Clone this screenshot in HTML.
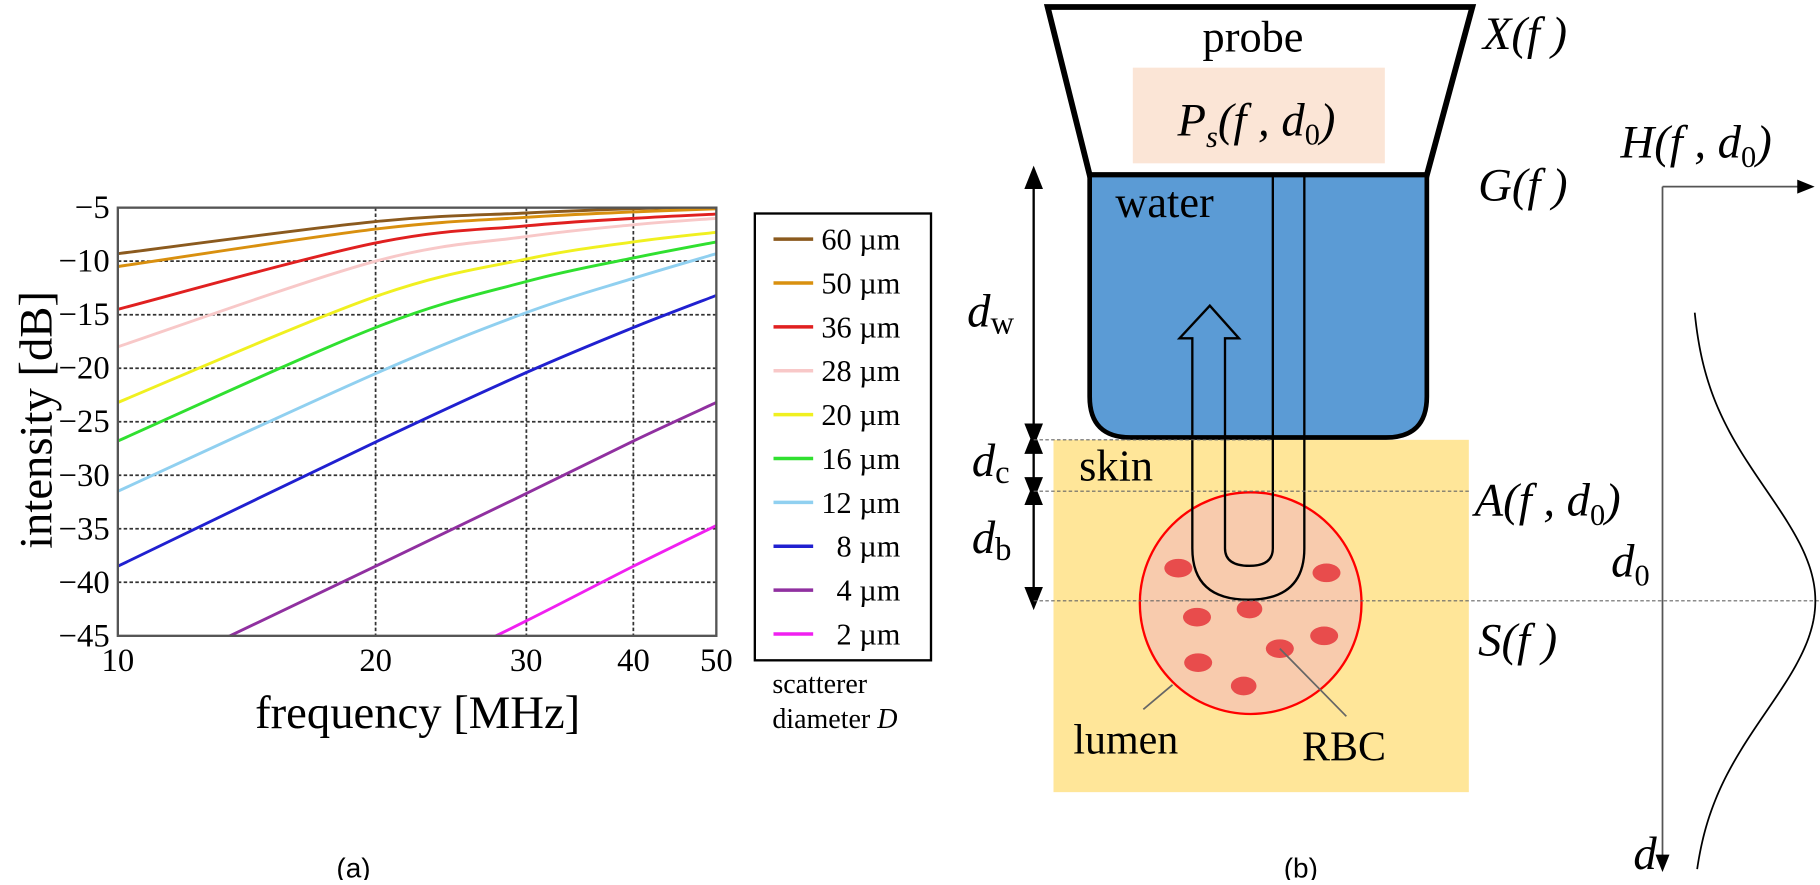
<!DOCTYPE html>
<html><head><meta charset="utf-8"><style>
body{margin:0;background:#fff}
svg text{font-family:"Liberation Serif",serif}
</style></head><body>
<svg id="s" width="1820" height="880" viewBox="0 0 1560 754.3" preserveAspectRatio="none" xmlns="http://www.w3.org/2000/svg">
<defs><clipPath id="cp"><rect x="101" y="178" width="513" height="367"/></clipPath>
<marker id="ah" markerWidth="10" markerHeight="10" refX="5" refY="5" orient="auto-start-reverse"><path d="M0,1 L10,5 L0,9 z" fill="#000"/></marker></defs>
<g id="grid" stroke="#333" stroke-width="1.5" stroke-dasharray="3,2"></g>
<g id="curves" clip-path="url(#cp)" fill="none" stroke-width="2.5"></g>
<rect x="101" y="178" width="513" height="367" fill="none" stroke="#555" stroke-width="2"/>
<g font-size="28" text-anchor="end" id="yt"></g>
<g font-size="28" text-anchor="middle">
<text x="101" y="575">10</text><text x="322" y="575">20</text><text x="451" y="575">30</text><text x="543" y="575">40</text><text x="614" y="575">50</text></g>
<text x="358" y="624" font-size="40" text-anchor="middle">frequency [MHz]</text>
<text transform="translate(44,360) rotate(-90)" font-size="40" text-anchor="middle">intensity [dB]</text>
<rect x="647" y="183" width="151" height="383" fill="#fff" stroke="#000" stroke-width="2"/>
<g id="leg" font-size="26"></g>
<text x="662" y="594" font-size="24">scatterer</text>
<text x="662" y="624" font-size="24">diameter <tspan font-style="italic">D</tspan></text>
<text x="303" y="752" font-size="24" text-anchor="middle" style="font-family:'Liberation Sans',sans-serif">(a)</text>
<text x="1115" y="752" font-size="24" text-anchor="middle" style="font-family:'Liberation Sans',sans-serif">(b)</text>

<!-- diagram b -->
<rect x="903" y="377" width="356" height="302" fill="#ffe699"/>
<path d="M898,6 L1262,6 L1223,150 L934,150 Z" fill="#fff" stroke="#000" stroke-width="5"/>
<rect x="971" y="58" width="216" height="82" fill="#fbe5d6"/>
<text x="1074" y="44" font-size="38" text-anchor="middle">probe</text>
<text x="1077" y="116" font-size="40" font-style="italic" text-anchor="middle">P<tspan font-size="26" dy="10">s</tspan><tspan dy="-10">(f , d</tspan><tspan font-size="26" dy="8" font-style="normal">0</tspan><tspan dy="-8">)</tspan></text>
<path d="M934,150 L1223,150 L1223,340 Q1223,375 1188,375 L969,375 Q934,375 934,340 Z" fill="#5b9bd5" stroke="#000" stroke-width="4"/>
<text x="956" y="186" font-size="38">water</text>
<text x="925" y="412" font-size="38">skin</text>
<circle cx="1072" cy="517" r="95" fill="#f8cbad" stroke="#f00" stroke-width="2"/>
<g fill="#e84c4c">
<ellipse cx="1010" cy="487" rx="12" ry="8"/><ellipse cx="1137" cy="491" rx="12" ry="8"/><ellipse cx="1071" cy="522" rx="11" ry="8"/><ellipse cx="1026" cy="529" rx="12" ry="8"/><ellipse cx="1135" cy="545" rx="12" ry="8"/><ellipse cx="1097" cy="556" rx="12" ry="8"/><ellipse cx="1027" cy="568" rx="12" ry="8"/><ellipse cx="1066" cy="588" rx="11" ry="8"/></g>
<path d="M1091,150 L1091,470 Q1091,485 1071,485 Q1050,485 1050,470 L1050,290 L1062,290 L1037,262 L1011,290 L1022,290 L1022,470 Q1022,514 1070,514 Q1118,514 1118,470 L1118,150" fill="none" stroke="#000" stroke-width="2"/>
<line x1="1005" y1="587" x2="980" y2="608" stroke="#666" stroke-width="1.5"/>
<line x1="1097" y1="556" x2="1154" y2="614" stroke="#666" stroke-width="1.5"/>
<text x="920" y="646" font-size="36">lumen</text>
<text x="1116" y="652" font-size="36">RBC</text>
<g stroke="#000" stroke-width="2" fill="none">
<line x1="886" y1="152" x2="886" y2="373" marker-start="url(#ah)" marker-end="url(#ah)"/>
<line x1="886" y1="379" x2="886" y2="419" marker-start="url(#ah)" marker-end="url(#ah)"/>
<line x1="886" y1="423" x2="886" y2="513" marker-start="url(#ah)" marker-end="url(#ah)"/>
</g>
<g stroke="#666" stroke-width="1" stroke-dasharray="3,2">
<line x1="886" y1="377" x2="1090" y2="377"/><line x1="886" y1="421" x2="1259" y2="421"/><line x1="886" y1="515" x2="1560" y2="515"/></g>
<g font-size="40" font-style="italic">
<text x="829" y="280">d<tspan font-size="28" font-style="normal" dy="6">w</tspan></text>
<text x="833" y="408">d<tspan font-size="28" font-style="normal" dy="6">c</tspan></text>
<text x="833" y="474">d<tspan font-size="28" font-style="normal" dy="6">b</tspan></text>
<text x="1271" y="42">X(f )</text>
<text x="1267" y="172">G(f )</text>
<text x="1389" y="135">H(f , d<tspan font-size="26" font-style="normal" dy="8">0</tspan><tspan dy="-8">)</tspan></text>
<text x="1264" y="442">A(f , d<tspan font-size="26" font-style="normal" dy="8">0</tspan><tspan dy="-8">)</tspan></text>
<text x="1381" y="494">d<tspan font-size="26" font-style="normal" dy="8">0</tspan></text>
<text x="1267" y="562">S(f )</text>
<text x="1400" y="745">d</text>
</g>
<g stroke="#000" stroke-width="1.5" fill="none">
<line x1="1425" y1="160" x2="1425" y2="740" marker-end="url(#ah)" stroke="#555"/>
<line x1="1425" y1="160" x2="1548" y2="160" marker-end="url(#ah)" stroke="#555"/>
<path id="gauss"/>
</g>
</svg>
<script>
var X=f=>101+513*Math.log(f/10)/Math.log(5), Y=v=>178+(-5-v)*367/40;
var g=document.getElementById('grid'),ns='http://www.w3.org/2000/svg';
function el(p,t,a,txt){var e=document.createElementNS(ns,t);for(var k in a)e.setAttribute(k,a[k]);if(txt)e.textContent=txt;p.appendChild(e);return e;}
for(var v=-10;v>=-40;v-=5)el(g,'line',{x1:101,x2:614,y1:Y(v),y2:Y(v)});
[20,30,40].forEach(f=>el(g,'line',{x1:X(f),x2:X(f),y1:178,y2:545}));
var yt=document.getElementById('yt');
for(var v=-5;v>=-45;v-=5)el(yt,'text',{x:94,y:Y(v)+9},'\u2212'+(-v));
var F=[10,20,30,40,50];
var S=[["#8b5a1e","60 µm",[-9.3,-6.3,-5.5,-5.1,-4.9]],["#d9900f","50 µm",[-10.5,-7,-5.9,-5.4,-5.1]],["#e02020","36 µm",[-14.5,-8.3,-6.7,-6,-5.6]],["#f8c8c8","28 µm",[-18,-10,-7.7,-6.6,-6]],["#f0f020","20 µm",[-23.2,-13.3,-9.8,-8.2,-7.3]],["#30e030","16 µm",[-26.8,-16.2,-11.9,-9.7,-8.2]],["#90d0f0","12 µm",[-31.5,-20.5,-14.8,-11.6,-9.3]],["#2020d0","\u20078 µm",[-38.5,-26.9,-20.4,-16.2,-13.2]],["#9030a0","\u20074 µm",[-50,-38.5,-31.7,-26.8,-23.2]],["#f020f0","\u20072 µm",[-62,-50.5,-43.6,-38.5,-34.7]]];
var cv=document.getElementById('curves'),lg=document.getElementById('leg');
S.forEach(function(s,i){
 var P=F.map((f,j)=>[X(f),Y(s[2][j])]);
 var d='M'+P[0];
 for(var j=0;j<P.length-1;j++){var p0=P[Math.max(j-1,0)],p1=P[j],p2=P[j+1],p3=P[Math.min(j+2,P.length-1)];
  d+=' C'+(p1[0]+(p2[0]-p0[0])/6)+','+(p1[1]+(p2[1]-p0[1])/6)+' '+(p2[0]-(p3[0]-p1[0])/6)+','+(p2[1]-(p3[1]-p1[1])/6)+' '+p2;}
 el(cv,'path',{d:d,stroke:s[0]});
 var y=205+i*37.6;
 el(lg,'line',{x1:663,x2:697,y1:y,y2:y,stroke:s[0],'stroke-width':3});
 el(lg,'text',{x:704,y:y+9},s[1]);
});
var d='';for(var y=268;y<=745;y+=3){var t=(y-515)/95;var x=1449+107*Math.exp(-t*t/2);d+=(d?'L':'M')+x+','+y;}
document.getElementById('gauss').setAttribute('d',d);
</script>
</body></html>
